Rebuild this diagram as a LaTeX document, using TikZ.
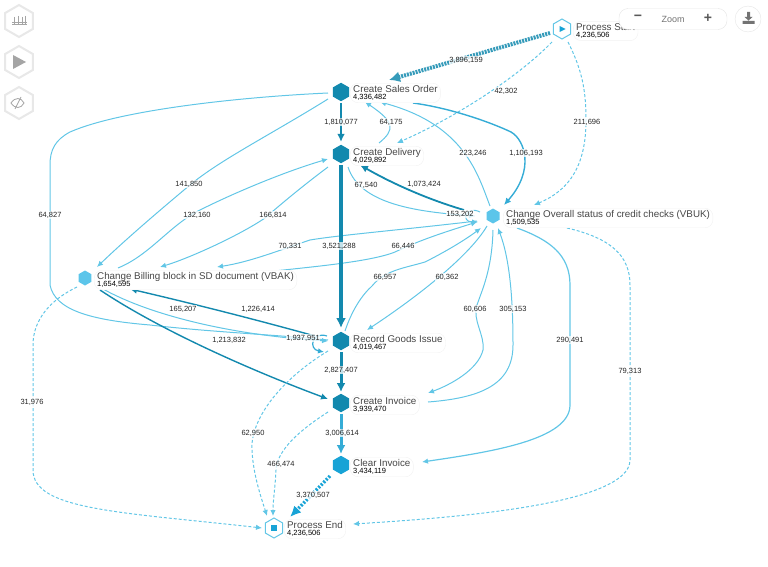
\documentclass[tikz,border=0pt]{standalone}
\usepackage{fontspec}
\setmainfont{Liberation Sans}
\usetikzlibrary{shapes.geometric,arrows.meta}
\pgfdeclarelayer{bg}
\pgfdeclarelayer{fg}
\pgfsetlayers{bg,main,fg}
\definecolor{thinc}{HTML}{62C6E6}
\definecolor{midc}{HTML}{35ACD6}
\definecolor{darkc}{HTML}{1389AE}
\definecolor{hexd}{HTML}{1289AE}
\definecolor{hexm}{HTML}{18A3D6}
\definecolor{hexl}{HTML}{5CC5EA}
\definecolor{uig}{HTML}{A5A5A5}
\newcommand\cntf{\fontsize{7.5}{6.6}\selectfont\color{black}}
\tikzset{
  x=1pt,y=-1pt,
  hexn/.style={regular polygon,regular polygon sides=6,shape border rotate=30,minimum size=18.5pt,inner sep=0pt,draw=none,fill=#1},
  hexo/.style={regular polygon,regular polygon sides=6,shape border rotate=30,minimum size=20pt,inner sep=0pt,draw=thinc,line width=1pt,fill=white},
  lbl/.style={anchor=west,draw=black!5,fill=white,rounded corners=8pt,align=left,inner xsep=3pt,inner ysep=2pt,text=black!72,font=\fontsize{9.8}{8}\selectfont},
  elab/.style={fill=white,fill opacity=.75,text opacity=1,inner sep=.6pt,text=black!85,font=\fontsize{7.5}{7.5}\selectfont},
  ethin/.style={draw=thinc,line width=1pt,-{Latex[length=6pt,width=5.5pt]}},
  emid/.style={draw=midc,line width=1.4pt,-{Latex[length=7pt,width=6.5pt]}},
  ethick/.style={draw=darkc,line width=1.8pt,-{Latex[length=8pt,width=7.5pt]}},
  ebig/.style={draw=darkc,line width=4.4pt,-{Latex[length=10pt,width=10pt]}},
  edot/.style={draw=thinc,line width=1pt,densely dashed,-{Latex[length=6pt,width=5.5pt]}},
  ehuge/.style={draw=darkc!85,line width=4pt,dash pattern=on 2pt off 1pt,-{Latex[length=11pt,width=11pt]}},
  ewide/.style={draw=hexm,line width=3.4pt,dash pattern=on 2pt off 1.6pt,-{Latex[length=11pt,width=10pt]}},
  uibtn/.style={regular polygon,regular polygon sides=6,shape border rotate=30,minimum size=32pt,inner sep=0pt,draw=black!9,line width=2pt,fill=white},
}
\begin{document}
\begin{tikzpicture}
\useasboundingbox (0,0) rectangle (768,567);
% process nodes
\node[hexo] (start) at (562,29) {};
\node[hexn=hexd] (cso) at (341,92) {};
\node[hexn=hexd] (cd) at (341,154) {};
\node[hexn=hexl,minimum size=15pt] (ovr) at (493,216) {};
\node[hexn=hexl,minimum size=15pt] (bill) at (85,278) {};
\node[hexn=hexd] (rgi) at (341,341) {};
\node[hexn=hexd] (ci) at (341,403) {};
\node[hexn=hexm] (clr) at (341,465) {};
\node[hexo] (end) at (274,528) {};
\fill[hexm] (559.5,26) -- (565.5,29) -- (559.5,32) -- cycle;
\fill[hexm] (271,525) rectangle (277,531);
% labels
\node[lbl] (startL) at (573,31) {Process Start\\[-.5pt]{\cntf 4,236,506}};
\node[lbl] (csoL) at (350,93) {Create Sales Order\\[-.5pt]{\cntf 4,336,482}};
\node[lbl] (cdL) at (350,156) {Create Delivery\\[-.5pt]{\cntf 4,029,892}};
\node[lbl] (ovrL) at (503,218) {Change Overall status of credit checks (VBUK)\\[-.5pt]{\cntf 1,509,535}};
\node[lbl] (billL) at (94,280) {Change Billing block in SD document (VBAK)\\[-.5pt]{\cntf 1,654,595}};
\node[lbl] (rgiL) at (350,343) {Record Goods Issue\\[-.5pt]{\cntf 4,019,467}};
\node[lbl] (ciL) at (350,405) {Create Invoice\\[-.5pt]{\cntf 3,939,470}};
\node[lbl] (clrL) at (350,467) {Clear Invoice\\[-.5pt]{\cntf 3,434,119}};
\node[lbl] (endL) at (284,529) {Process End\\[-.5pt]{\cntf 4,236,506}};
\begin{pgfonlayer}{bg}
% start edges
\draw[ehuge] ([shift={(-12,4)}]start.center) -- ([shift={(48,-12)}]cso.center);
\draw[edot] ([shift={(-10,13)}]start.center) .. controls (515,80) and (450,120) .. ([shift={(56,-11)}]cd.center);
\draw[edot] ([shift={(6,13)}]start.center) .. controls (582,70) and (586,90) .. (586,120) .. controls (586,165) and (570,190) .. ([shift={(41,-11)}]ovr.center);
% sales order
\draw[ethick] ([shift={(0,11)}]cso.center) -- ([shift={(0,-12)}]cd.center);
\draw[ethin] ([shift={(38,-11)}]cd.center) .. controls (395,130) and (395,122) .. ([shift={(24,10)}]cso.center);
\draw[ethin] ([shift={(-3,-10)}]ovr.center) .. controls (478,175) and (465,125) .. ([shift={(39,10)}]cso.center);
\draw[emid] ([shift={(72,11)}]cso.center) .. controls (450,108) and (490,122) .. (511,132) .. controls (525,140) and (535,170) .. ([shift={(11,-11)}]ovr.center);
\draw[ethick] ([shift={(-29,-6)}]ovr.center) .. controls (430,200) and (395,185) .. ([shift={(19,11)}]cd.center);
\draw[ethin] ([shift={(7,13)}]cd.center) .. controls (360,205) and (420,212) .. ([shift={(-18,0)}]ovr.center);
\draw[ethin] ([shift={(-13,-4)}]ovr.center) .. controls (466,205) and (460,222) .. ([shift={(-15,6)}]ovr.center);
% overall status in/out
\draw[ethin] ([shift={(-16,5)}]ovr.center) .. controls (400,230) and (340,235) .. (310,240) .. controls (280,250) and (250,262) .. ([shift={(132,-11)}]bill.center);
\draw[ethin] ([shift={(180,-6)}]bill.center) .. controls (310,267) and (370,262) .. (395,252) .. controls (420,240) and (445,232) .. ([shift={(-16,6)}]ovr.center);
\draw[ethin] ([shift={(4,-10)}]rgi.center) .. controls (352,310) and (362,295) .. (372,286) .. controls (385,270) and (405,268) .. (425,262) .. controls (445,252) and (465,240) .. ([shift={(-12,12)}]ovr.center);
\draw[ethin] ([shift={(-6,10)}]ovr.center) .. controls (470,255) and (420,295) .. ([shift={(26,-11)}]rgi.center);
\draw[ethin] ([shift={(0,14)}]ovr.center) .. controls (492,270) and (482,290) .. (477,305) .. controls (472,320) and (485,335) .. (483,350) .. controls (478,370) and (450,385) .. ([shift={(87,-10)}]ci.center);
\draw[ethin] ([shift={(87,-1)}]ci.center) .. controls (480,398) and (513,385) .. (513,345) .. controls (513,300) and (510,260) .. ([shift={(5,12)}]ovr.center);
\draw[ethin,line width=1.2pt] ([shift={(24,12)}]ovr.center) .. controls (550,240) and (570,255) .. (570,285) -- (570,405) .. controls (570,440) and (490,452) .. ([shift={(81,-3)}]clr.center);
\draw[edot] ([shift={(74,12)}]ovr.center) .. controls (610,238) and (630,255) .. (630,285) -- (630,460) .. controls (630,505) and (450,518) .. ([shift={(79,-4)}]end.center);
% left side
\draw[ethin] ([shift={(-13,7)}]cso.center) .. controls (270,135) and (220,160) .. (190,185) .. controls (160,210) and (125,240) .. ([shift={(12,-11)}]bill.center);
\draw[ethin,-] ([shift={(-13,1)}]cso.center) .. controls (240,97) and (120,110) .. (70,132) .. controls (55,140) and (50,150) .. (50,165) -- (50,285) .. controls (55,310) and (90,320) .. (150,325) .. controls (210,332) and (280,335) .. ([shift={(-13,-1)}]rgi.center);
\draw[ethin] ([shift={(33,-10)}]bill.center) .. controls (150,255) and (170,225) .. (200,210) .. controls (240,190) and (290,170) .. ([shift={(-13,5)}]cd.center);
\draw[ethin] ([shift={(-13,13)}]cd.center) .. controls (300,188) and (280,205) .. (265,218) .. controls (240,235) and (190,258) .. ([shift={(75,-11)}]bill.center);
\draw[ebig] ([shift={(0,11)}]cd.center) -- ([shift={(0,-13)}]rgi.center);
\draw[ethin] ([shift={(18,11)}]bill.center) .. controls (150,315) and (230,335) .. ([shift={(-13,0)}]rgi.center);
\draw[emid,draw=darkc] ([shift={(-26,-5)}]rgi.center) .. controls (250,318) and (190,303) .. ([shift={(45,11)}]bill.center);
\draw[emid,draw=darkc] ([shift={(15,12)}]bill.center) .. controls (160,330) and (250,370) .. ([shift={(-13,-4)}]ci.center);
% self loop of goods issue
\draw[ethin,line width=1.2pt,draw=midc] ([shift={(-14,-5)}]rgi.center) .. controls (312,331) and (308,349) .. ([shift={(-17,11)}]rgi.center);
% main line
\draw[ethick,line width=3pt,-{Latex[length=9pt,width=9pt]}] ([shift={(0,11)}]rgi.center) -- ([shift={(0,-11)}]ci.center);
\draw[ethick,draw=midc,line width=3pt,-{Latex[length=9pt,width=9pt]}] ([shift={(0,11)}]ci.center) -- ([shift={(0,-11)}]clr.center);
\draw[ewide] ([shift={(-11,11)}]clr.center) -- ([shift={(16,-11)}]end.center);
\draw[edot] ([shift={(-13,10)}]rgi.center) .. controls (280,380) and (250,420) .. (252,450) .. controls (253,475) and (262,500) .. ([shift={(-7,-12)}]end.center);
\draw[edot] ([shift={(-13,9)}]ci.center) .. controls (300,430) and (277,450) .. (276,470) .. controls (275,490) and (273,500) .. ([shift={(-1,-12)}]end.center);
\draw[edot] ([shift={(-8,9)}]bill.center) .. controls (50,300) and (33,320) .. (33,345) -- (33,470) .. controls (33,510) and (120,512) .. ([shift={(-12,0)}]end.center);
\end{pgfonlayer}
\begin{pgfonlayer}{fg}
% connector labels
\node[elab] (l1) at (466,60) {3,896,159};
\node[elab] (l2) at (506,91) {42,302};
\node[elab] (l3) at (587,122) {211,696};
\node[elab] (l4) at (341,122) {1,810,077};
\node[elab] (l5) at (391,122) {64,175};
\node[elab] (l6) at (473,153) {223,246};
\node[elab] (l7) at (526,153) {1,106,193};
\node[elab] (l8) at (424,184) {1,073,424};
\node[elab] (l9) at (366,185) {67,540};
\node[elab] (l10) at (460,214) {153,202};
\node[elab] (l11) at (290,246) {70,331};
\node[elab] (l12) at (403,246) {66,446};
\node[elab] (l13) at (385,277) {66,957};
\node[elab] (l14) at (447,277) {60,362};
\node[elab] (l15) at (475,309) {60,606};
\node[elab] (l16) at (513,309) {305,153};
\node[elab] (l17) at (570,340) {290,491};
\node[elab] (l18) at (630,371) {79,313};
\node[elab] (l19) at (189,184) {141,850};
\node[elab] (l20) at (50,215) {64,827};
\node[elab] (l21) at (197,215) {132,160};
\node[elab] (l22) at (273,215) {166,814};
\node[elab] (l23) at (339,246) {3,521,288};
\node[elab] (l24) at (183,309) {165,207};
\node[elab] (l25) at (258,309) {1,226,414};
\node[elab] (l26) at (229,340) {1,213,832};
\node[elab] (l27) at (303,338) {1,937,951};
\node[elab] (l28) at (341,370) {2,827,407};
\node[elab] (l29) at (342,433) {3,006,614};
\node[elab] (l30) at (313,495) {3,370,507};
\node[elab] (l31) at (253,433) {62,950};
\node[elab] (l32) at (281,464) {466,474};
\node[elab] (l33) at (32,402) {31,976};
% zoom panel
\node[draw=black!10,fill=white,rounded corners=9pt,minimum width=108pt,minimum height=21pt,inner sep=0pt] (zoomp) at (673,19) {};
\node[text=black!55,font=\fontsize{9}{9}\selectfont,inner sep=0pt] (zoomt) at (673,19) {Zoom};
\node[text=black!65,font=\bfseries\fontsize{14}{14}\selectfont,inner sep=0pt] (zoomm) at (638,18) {−};
\node[text=black!65,font=\bfseries\fontsize{14}{14}\selectfont,inner sep=0pt] (zoomq) at (708,18) {+};
\node[circle,draw=black!10,fill=white,minimum size=26pt,inner sep=0pt] (dl) at (748,19) {};
\fill[black!55] (747,12) rectangle (750,17) (744.5,17) -- (752.5,17) -- (748.5,20.5) -- cycle (742.5,21) rectangle (754.5,24);
% left tool buttons
\node[uibtn] (b1) at (19,21) {};
\node[uibtn] (b2) at (19,62) {};
\node[uibtn] (b3) at (19,103) {};
\draw[uig,line width=.7pt] (12,22) -- (27,22) (12,24) -- (27,24) (14,17) -- (14,24) (18,16) -- (18,24) (22,17) -- (22,24) (25,16) -- (25,24);
\fill[uig] (13,55) -- (26,62) -- (13,69) -- cycle;
\draw[uig,line width=.8pt] (11,103) .. controls (15,97) and (21,97) .. (24,103) .. controls (21,109) and (15,109) .. (11,103) -- cycle (21,97) -- (15,109);
\end{pgfonlayer}
\end{tikzpicture}
\end{document}
